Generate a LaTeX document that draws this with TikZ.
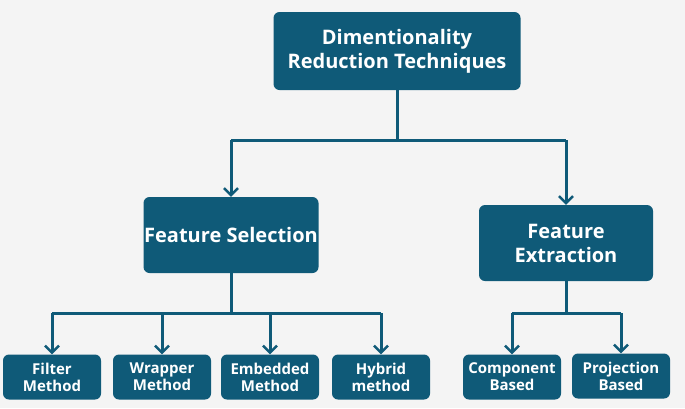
\documentclass[tikz,border=0pt]{standalone}
\usepackage{fontspec}
\setmainfont{Open Sans}
\usetikzlibrary{arrows.meta}
\definecolor{teal}{HTML}{0F5A78}
\definecolor{bg}{HTML}{F4F4F4}
\begin{document}
\begin{tikzpicture}[x=1pt,y=-1pt,
  box/.style={fill=teal,rounded corners=6pt,text=white,font=\bfseries,align=center,inner sep=0pt},
  conn/.style={draw=teal,line width=3pt},
  arr/.style={conn,-{Straight Barb[length=7pt,width=14pt,line width=2.5pt]}},
  big/.style={box,font=\bfseries\fontsize{20}{24}\selectfont}]
\fill[bg] (0,0) rectangle (685,408);
\useasboundingbox (0,0) rectangle (685,408);
\node[big,minimum width=247pt,minimum height=78pt] (top) at (397,51) {Dimentionality\\Reduction Techniques};
\node[big,minimum width=175pt,minimum height=76pt] (fs) at (231,235) {Feature Selection};
\node[big,minimum width=174pt,minimum height=76pt] (fe) at (566,243) {Feature\\Extraction};
\tikzset{small/.style={box,minimum width=98pt,minimum height=45pt,font=\bfseries\fontsize{15}{17}\selectfont}}
\node[small] (f) at (52,377) {Filter\\Method};
\node[small] (w) at (162,377) {Wrapper\\Method};
\node[small] (e) at (270,377) {Embedded\\Method};
\node[small] (h) at (381,377) {Hybrid\\method};
\node[small] (c) at (512,377) {Component\\Based};
\node[small] (p) at (621,376) {Projection\\Based};
\coordinate (j1) at (397,140);
\coordinate (j2) at (231,313);
\coordinate (j3) at (566,313);
\draw[conn] (top.south) -- (j1);
\draw[conn] (j1 -| fs) -- (j1 -| fe);
\draw[arr] (j1 -| fs) -- (fs.north);
\draw[arr] (j1 -| fe) -- (fe.north);
\draw[conn] (fs.south) -- (j2);
\draw[conn] (j2 -| f) -- (j2 -| h);
\foreach \n in {f,w,e,h} \draw[arr] (j2 -| \n) -- (\n.north);
\draw[conn] (fe.south) -- (j3);
\draw[conn] (j3 -| c) -- (j3 -| p);
\foreach \n in {c,p} \draw[arr] (j3 -| \n) -- (\n.north);
\end{tikzpicture}
\end{document}
